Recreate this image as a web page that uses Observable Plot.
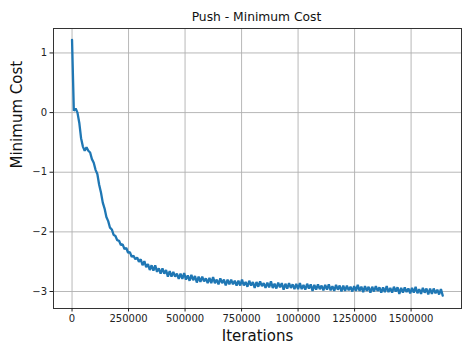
<!DOCTYPE html>
<html><head><meta charset="utf-8">
<script src="https://cdn.jsdelivr.net/npm/d3@7"></script>
<script src="https://cdn.jsdelivr.net/npm/@observablehq/plot@0.6"></script>
<style>body{margin:0;background:#fff} #chart svg{display:block}</style>
</head><body><div id="chart"></div>
<script>
const title = "Push - Minimum Cost";
const xLabel = "Iterations";
const yLabel = "Minimum Cost";
const xTicks = [0, 250000, 500000, 750000, 1000000, 1250000, 1500000];
const yTicks = [-3, -2, -1, 0, 1];
const iterationStep = 8000;
const minimumCost = [
 1.22, 0.03, 0.07, 0.00, -0.17, -0.43, -0.57, -0.64, -0.58, -0.64,
 -0.67, -0.78, -0.84, -0.96, -1.03, -1.21, -1.34, -1.51, -1.61, -1.75,
 -1.82, -1.93, -1.96, -2.05, -2.07, -2.14, -2.15, -2.22,
 -2.21, -2.29, -2.27, -2.35, -2.34, -2.42, -2.40, -2.46, -2.43, -2.50,
 -2.46, -2.56, -2.49, -2.59, -2.54, -2.64, -2.56, -2.65, -2.56, -2.67,
 -2.61, -2.70, -2.61, -2.70, -2.64, -2.75, -2.66, -2.75, -2.67, -2.75,
 -2.70, -2.79, -2.70, -2.79, -2.69, -2.80, -2.73, -2.82, -2.72, -2.81,
 -2.74, -2.85, -2.75, -2.84, -2.75, -2.83, -2.78, -2.86, -2.77, -2.86,
 -2.76, -2.86, -2.80, -2.88, -2.78, -2.86, -2.80, -2.90, -2.80, -2.88,
 -2.80, -2.88, -2.82, -2.90, -2.82, -2.90, -2.80, -2.90, -2.84, -2.92,
 -2.82, -2.90, -2.84, -2.94, -2.84, -2.92, -2.83, -2.91, -2.86, -2.94,
 -2.85, -2.93, -2.83, -2.94, -2.87, -2.95, -2.85, -2.93, -2.86, -2.97,
 -2.87, -2.95, -2.86, -2.94, -2.88, -2.96, -2.87, -2.96, -2.86, -2.96,
 -2.89, -2.97, -2.87, -2.95, -2.88, -2.99, -2.89, -2.97, -2.88, -2.96,
 -2.90, -2.98, -2.89, -2.97, -2.88, -2.98, -2.91, -2.99, -2.89, -2.97,
 -2.90, -3.00, -2.90, -2.99, -2.90, -2.98, -2.92, -3.00, -2.91, -2.99,
 -2.89, -2.99, -2.92, -3.01, -2.91, -2.99, -2.92, -3.02, -2.92, -3.00,
 -2.91, -2.99, -2.93, -3.02, -2.93, -3.01, -2.91, -3.01, -2.94, -3.02,
 -2.92, -3.00, -2.93, -3.04, -2.94, -3.02, -2.93, -3.01, -2.95, -3.03,
 -2.94, -3.02, -2.92, -3.03, -2.96, -3.04, -2.94, -3.02, -2.95, -3.05,
 -2.95, -3.04, -2.95, -3.03, -2.97, -3.05, -2.96, -3.07
];
const data = minimumCost.map((v, i) => ({iteration: i * iterationStep, cost: v}));
const fmtY = d => d < 0 ? "\u2212" + (-d) : String(d);

const chart = Plot.plot({
  width: 474, height: 355,
  marginLeft: 53, marginRight: 13, marginTop: 28, marginBottom: 47,
  style: {fontFamily: "DejaVu Sans", fontSize: "10px", background: "white", color: "#222"},
  x: {domain: [-82000, 1723000]},
  y: {domain: [-3.285, 1.41]},
  marks: [
    Plot.gridX(xTicks, {stroke: "#b0b0b0", strokeOpacity: 1, strokeWidth: 0.9}),
    Plot.gridY(yTicks, {stroke: "#b0b0b0", strokeOpacity: 1, strokeWidth: 0.9}),
    Plot.line(data, {x: "iteration", y: "cost", stroke: "#1f77b4", strokeWidth: 2.3, strokeLinejoin: "miter"}),
    Plot.frame({stroke: "#333", strokeWidth: 1}),
    Plot.axisX(xTicks, {tickSize: 3.5, tickPadding: 3, tickFormat: d => String(d), label: null, fontSize: 10}),
    Plot.axisY(yTicks, {tickSize: 3.5, tickPadding: 3, tickFormat: fmtY, label: null, fontSize: 10}),
    Plot.text([title], {frameAnchor: "top", lineAnchor: "middle", dy: -11.3, dx: -1, fontSize: 12.3, fill: "#111"}),
    Plot.text([xLabel], {frameAnchor: "bottom", lineAnchor: "middle", dy: 28, fontSize: 15, fill: "#111"}),
    Plot.text([yLabel], {frameAnchor: "left", lineAnchor: "middle", dx: -36.3, rotate: -90, fontSize: 15, fill: "#111"})
  ]
});
document.getElementById("chart").appendChild(chart);
</script>
</body></html>
